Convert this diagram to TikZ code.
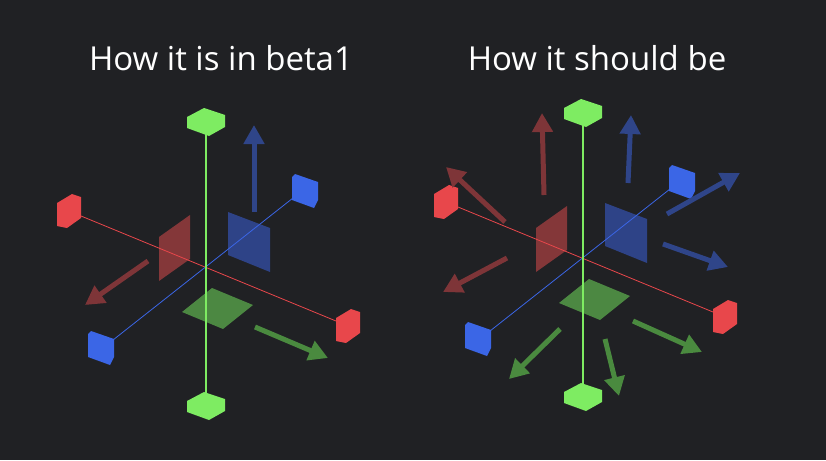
\documentclass[tikz,border=0pt]{standalone}
\usepackage{fontspec}
\setmainfont{Open Sans}
\usetikzlibrary{arrows.meta}
\definecolor{bg}{HTML}{202124}
\definecolor{rc}{HTML}{E8474B}
\definecolor{bc}{HTML}{3B66E6}
\definecolor{gc}{HTML}{7EEC62}
\definecolor{rp}{HTML}{843739}
\definecolor{bp}{HTML}{2E4387}
\definecolor{gp}{HTML}{4C8842}
\definecolor{ra}{HTML}{7E3538}
\definecolor{ba}{HTML}{2F4589}
\definecolor{ga}{HTML}{4A8A3F}
\tikzset{
  arr/.style={line width=5pt,-{Triangle[width=20pt,length=19pt]}},
  ttl/.style={text=white,font=\fontsize{33}{37}\selectfont},
}
\newcommand{\gcube}[2]{\fill[gc,shift={(#1,#2)}] (-19,-5)--(-2,-14)--(19,-7)--(19,5)--(3,14)--(-19,6)--cycle;}
\newcommand{\rcube}[2]{\fill[rc,shift={(#1,#2)}] (-12,-8)--(3,-17)--(12,-14)--(12,7)--(-2,17)--(-12,15)--cycle;}
\newcommand{\bcube}[2]{\fill[bc,shift={(#1,#2)}] (-13,-14)--(-10,-17)--(13,-9)--(13,9)--(9,17)--(-13,9)--cycle;}
\newcommand{\gizmo}{%
  \coordinate (rl) at (81,216); \coordinate (rr) at (336,321);
  \coordinate (bl) at (113,340); \coordinate (bu) at (293,198);
  \coordinate (gt) at (206,132); \coordinate (gb) at (206,396);
  \fill[rp] (159,237)--(190,215)--(190,259)--(159,281)--cycle;
  \fill[bp] (228,212)--(270,228)--(270,272)--(228,255)--cycle;
  \fill[gp] (182,312)--(212,288)--(253,305)--(223,329)--cycle;
  \draw[rc,line width=0.8pt] (rl)--(rr);
  \draw[bc,line width=0.8pt] (bl)--(bu);
  \draw[gc,line width=1.6pt] (gt)--(gb);
  \gcube{206}{122}\gcube{206}{406}
  \rcube{69}{211}\rcube{348}{326}
  \bcube{305}{191}\bcube{101}{348}
}
\begin{document}
\begin{tikzpicture}[x=1pt,y=-1pt]
\fill[bg] (0,0) rectangle (826,460);
\useasboundingbox (0,0) rectangle (826,460);
\node[ttl] (t1) at (221,58) {How it is in beta1};
\node[ttl] (t2) at (597,58) {How it should be};
\gizmo
\draw[arr,ba] (254,212)--(254,125);
\draw[arr,ra] (148,261)--(85,305);
\draw[arr,ga] (255,327)--(328,358);
\begin{scope}[shift={(377,-9)}]
\gizmo
\end{scope}
\draw[arr,ra] (544,195)--(542,113);
\draw[arr,ra] (505,222)--(446,167);
\draw[arr,ra] (507,258)--(443,292);
\draw[arr,ba] (628,183)--(631,115);
\draw[arr,ba] (667,214)--(740,173);
\draw[arr,ba] (663,244)--(728,267);
\draw[arr,ga] (560,329)--(509,379);
\draw[arr,ga] (605,339)--(619,396);
\draw[arr,ga] (633,321)--(702,352);
\end{tikzpicture}
\end{document}
